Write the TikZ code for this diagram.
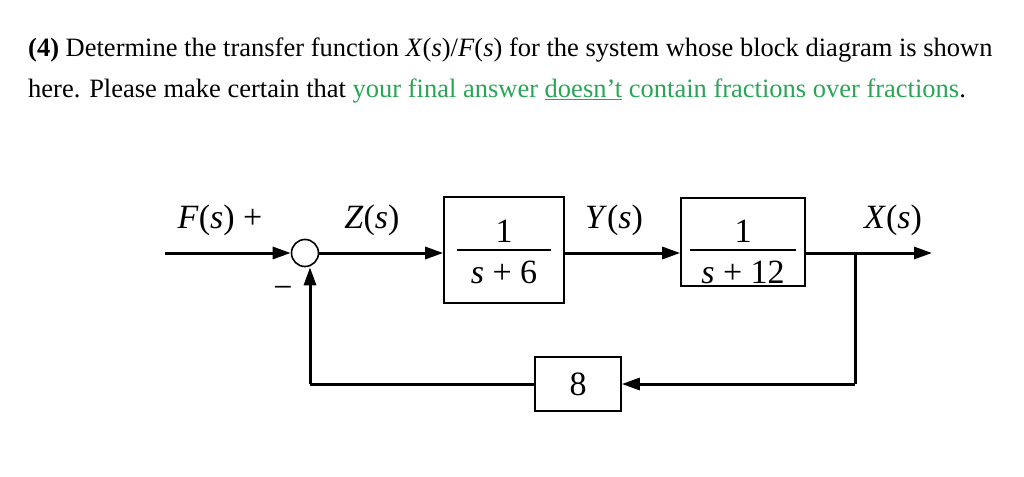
\documentclass[tikz,border=0pt]{standalone}
\usepackage{fontspec}
\setmainfont{Liberation Serif}
\usetikzlibrary{arrows.meta}
\definecolor{grn}{RGB}{40,165,85}
\begin{document}
\begin{tikzpicture}[x=1pt,y=-1pt,
  blk/.style={draw,line width=1.6pt,inner sep=0pt},
  sig/.style={line width=3pt,-{Triangle[length=18pt,width=12pt]}},
  wire/.style={line width=3pt},
  lab/.style={font=\fontsize{34}{34}\selectfont,anchor=base}]
\useasboundingbox (0,0) rectangle (1024,476);
\node[anchor=base west,font=\fontsize{26.5}{26}\selectfont,inner sep=0] (l1) at (28,57) {\textbf{(4)} Determine the transfer function \textit{X}(\textit{s})/\textit{F}(\textit{s}) for the system whose block diagram is shown};
\node[anchor=base west,font=\fontsize{26.5}{26}\selectfont,inner sep=0] (l2) at (28,98) {here. Please make certain that \textcolor{grn}{your final answer \underline{doesn’t} contain fractions over fractions}.};
\node[draw,circle,line width=1.6pt,minimum size=27pt,inner sep=0] (sum) at (305,253) {};
\coordinate (in) at (165,253);
\node[blk,minimum width=120pt,minimum height=106pt] (b1) at (504,250) {};
\node[blk,minimum width=124pt,minimum height=88pt] (b2) at (743,242) {};
\node[blk,minimum width=86pt,minimum height=54pt] (b3) at (578,384) {\fontsize{34}{34}\selectfont 8};
\draw[line width=1.3pt] (457,250) -- (551,250);
\node[lab] (n1) at (504,242) {1};
\node[lab] (d1) at (504,283) {\textit{s} + 6};
\draw[line width=1.3pt] (690,250) -- (796,250);
\node[lab] (n2) at (743,242) {1};
\node[lab] (d2) at (743,283) {\textit{s} + 12};
\node[lab] (f) at (220,228) {\textit{F}(\textit{s}) +};
\node[lab] (z) at (372,228) {\textit{Z}(\textit{s})};
\node[lab] (y) at (614,228) {\textit{Y}(\textit{s})};
\node[lab] (xs) at (893,228) {\textit{X}(\textit{s})};
\node[lab] (m) at (283,298) {\textminus};
\coordinate (out) at (932,253);
\coordinate (br) at (855,253);
\coordinate (bl) at (855,384);
\coordinate (fl) at (310,384);
\draw[sig] (in) -- (sum);
\draw[sig] (sum) -- (b1.west|-sum);
\draw[sig] (b1.east|-sum) -- (b2.west|-sum);
\draw[sig] (b2.east|-sum) -- (out);
\draw[wire] (br) -- (bl);
\draw[sig] (bl) -- (b3.east);
\draw[wire] (b3.west) -- (fl);
\draw[sig] (fl) -- (sum.south-|fl);
\end{tikzpicture}
\end{document}
